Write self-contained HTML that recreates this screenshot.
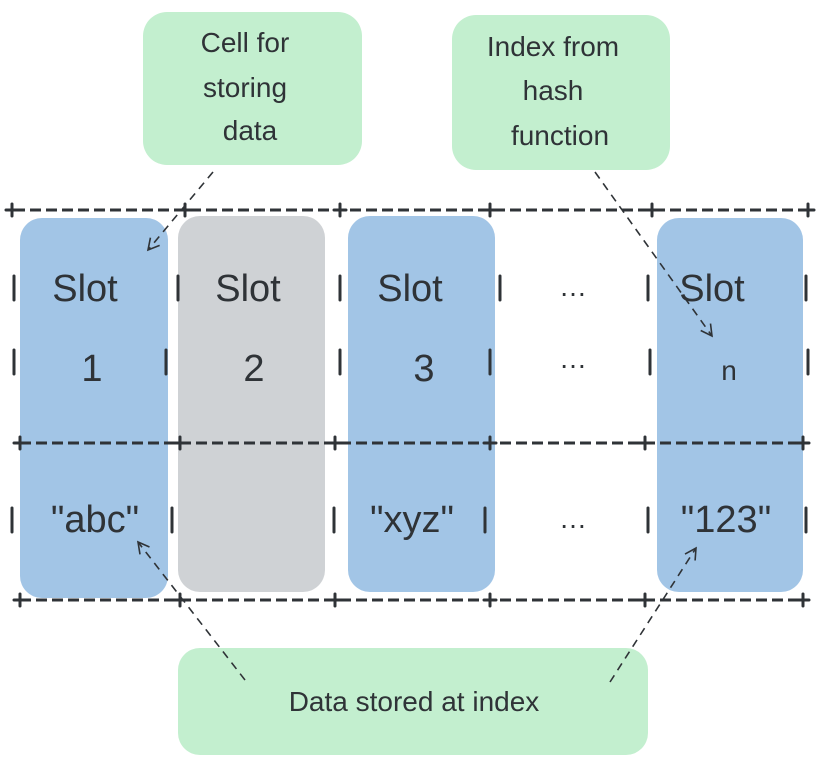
<!DOCTYPE html>
<html><head><meta charset="utf-8"><style>
html,body{margin:0;padding:0;background:#fff;}
svg{display:block}
text{font-family:"Liberation Sans",sans-serif;fill:#2f3337}
</style></head><body>
<svg width="820" height="760" viewBox="0 0 820 760" xmlns="http://www.w3.org/2000/svg">
<defs>
<marker id="ah" markerWidth="14" markerHeight="14" refX="12" refY="7" orient="auto" markerUnits="userSpaceOnUse">
<path d="M1,1 L12,7 L1,13" fill="none" stroke="#2f3337" stroke-width="1.6"/>
</marker>
</defs>
<!-- green boxes -->
<rect x="143" y="12" width="219" height="153" rx="24" fill="#c3efcf"/>
<rect x="452" y="15" width="218" height="155" rx="24" fill="#c3efcf"/>
<rect x="178" y="648" width="470" height="107" rx="22" fill="#c3efcf"/>
<!-- columns -->
<rect x="20" y="218" width="148" height="380" rx="22" fill="#a2c5e6"/>
<rect x="178" y="216" width="147" height="376" rx="22" fill="#cfd2d5"/>
<rect x="348" y="216" width="147" height="376" rx="22" fill="#a2c5e6"/>
<rect x="657" y="218" width="146" height="374" rx="22" fill="#a2c5e6"/>
<!-- dashed rows -->
<g stroke="#2f3337" stroke-width="3" stroke-dasharray="11,5" fill="none">
<line x1="14" y1="210" x2="808" y2="210"/>
<line x1="20" y1="443" x2="805" y2="443"/>
<line x1="20" y1="600" x2="805" y2="600"/>
</g>
<g stroke="#2f3337" stroke-width="3" stroke-linecap="round">
<path d="M6,210h12M12,204v12 M179,210h12M185,204v12 M334,210h12M340,204v12 M484,210h12M490,204v12 M646,210h12M652,204v12 M802,210h12M808,204v12"/>
<path d="M14,443h12M20,437v12 M174,443h12M180,437v12 M329,443h12M335,437v12 M484,443h12M490,437v12 M639,443h12M645,437v12 M797,443h12M803,437v12"/>
<path d="M14,600h12M20,594v12 M174,600h12M180,594v12 M329,600h12M335,594v12 M484,600h12M490,594v12 M639,600h12M645,594v12 M797,600h12M803,594v12"/>
<!-- vertical bars -->
<path d="M14,276v24 M178,276v24 M340,276v24 M500,276v24 M648,276v24 M806,276v24"/>
<path d="M14,350v24 M166,350v24 M340,350v24 M490,350v24 M650,350v24 M808,350v24"/>
<path d="M12,508v24 M172,508v24 M334,508v24 M485,508v24 M648,508v24 M806,508v24"/>
</g>
<!-- text -->
<g font-size="38" text-anchor="middle">
<text x="85" y="301">Slot</text>
<text x="248" y="301">Slot</text>
<text x="410" y="301">Slot</text>
<text x="712" y="301">Slot</text>
<text x="92" y="381">1</text>
<text x="254" y="381">2</text>
<text x="424" y="381">3</text>
<text x="573" y="296" font-size="28">…</text>
<text x="573" y="368" font-size="28">…</text>
<text x="573" y="528" font-size="28">…</text>
<text x="729" y="380" font-size="28">n</text>
<text x="95" y="532">"abc"</text>
<text x="412" y="532">"xyz"</text>
<text x="726" y="532">"123"</text>
</g>
<g font-size="28" text-anchor="middle">
<text x="245" y="52">Cell for</text>
<text x="245" y="97">storing</text>
<text x="250" y="140">data</text>
<text x="553" y="56">Index from</text>
<text x="553" y="100">hash</text>
<text x="560" y="145">function</text>
<text x="414" y="711">Data stored at index</text>
</g>
<!-- arrows -->
<g stroke="#2f3337" stroke-width="1.6" stroke-dasharray="8,6" fill="none">
<line x1="213" y1="172" x2="148" y2="250" marker-end="url(#ah)"/>
<line x1="595" y1="172" x2="712" y2="336" marker-end="url(#ah)"/>
<line x1="245" y1="680" x2="138" y2="542" marker-end="url(#ah)"/>
<line x1="610" y1="682" x2="696" y2="548" marker-end="url(#ah)"/>
</g>
</svg>
</body></html>
